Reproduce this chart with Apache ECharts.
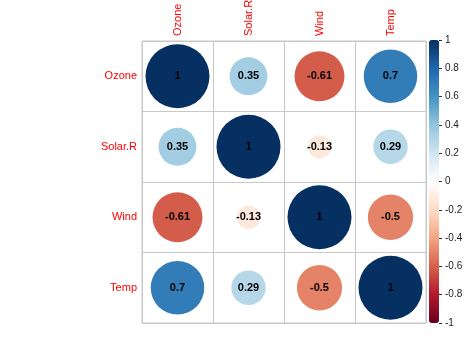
<!DOCTYPE html>
<html>
<head>
<meta charset="utf-8">
<script src="https://cdn.jsdelivr.net/npm/echarts@6/dist/echarts.min.js"></script>
<style>
  html, body { margin: 0; padding: 0; background: #fff; }
  #chart { width: 474px; height: 338px; }
</style>
</head>
<body>
<div id="chart"></div>
<script>
// Variables of the airquality data set
var variables = ['Ozone', 'Solar.R', 'Wind', 'Temp'];

// Pearson correlations, one row per variable
var rowOzone  = [1, 0.35, -0.61, 0.7];
var rowSolarR = [0.35, 1, -0.13, 0.29];
var rowWind   = [-0.61, -0.13, 1, -0.5];
var rowTemp   = [0.7, 0.29, -0.5, 1];

// Colour bar ticks
var legendTicks = [-1, -0.8, -0.6, -0.4, -0.2, 0, 0.2, 0.4, 0.6, 0.8, 1];

// Diverging red-blue palette from -1 to 1
var palette = ['#67001F', '#B2182B', '#D6604D', '#F4A582', '#FDDBC7', '#FFFFFF',
               '#D1E5F0', '#92C5DE', '#4393C3', '#2166AC', '#053061'];

var rows = [rowOzone, rowSolarR, rowWind, rowTemp];
var cells = [];
rows.forEach(function (row, i) {
  row.forEach(function (v, j) {
    cells.push([j, i, v]);
  });
});

var MAX_DIAMETER = 64;
var FONT = 'Liberation Sans, Arial, Helvetica, sans-serif';

var chart = echarts.init(document.getElementById('chart'));
chart.setOption({
  animation: false,
  backgroundColor: '#fff',
  grid: [
    { left: 142, top: 41, width: 284, height: 282, show: true,
      borderColor: '#c8c8c8', borderWidth: 1, containLabel: false, outerBoundsMode: 'none' },
    { left: 429, top: 40, width: 10, height: 283, show: false, outerBoundsMode: 'none' }
  ],
  xAxis: [
    { type: 'category', data: variables, position: 'top', gridIndex: 0,
      axisLine: { show: false }, axisTick: { show: false },
      splitLine: { show: true, interval: 0, lineStyle: { color: '#c8c8c8', width: 1 } },
      axisLabel: { rotate: -90, margin: 5, color: '#f00', fontSize: 11, fontFamily: FONT, interval: 0 } },
    { type: 'category', data: ['bar'], gridIndex: 1, show: false }
  ],
  yAxis: [
    { type: 'category', data: variables, inverse: true, gridIndex: 0,
      axisLine: { show: false }, axisTick: { show: false },
      splitLine: { show: true, interval: 0, lineStyle: { color: '#c8c8c8', width: 1 } },
      axisLabel: { margin: 5, color: '#f00', fontSize: 11, fontFamily: FONT, interval: 0 } },
    { type: 'value', gridIndex: 1, position: 'right',
      min: legendTicks[0], max: legendTicks[legendTicks.length - 1], interval: 0.2,
      axisLine: { show: false },
      axisTick: { show: true, length: 3, lineStyle: { color: '#333' } },
      splitLine: { show: false },
      axisLabel: { margin: 6, fontSize: 10, color: '#222', fontFamily: FONT,
        formatter: function (v) { return String(Math.round(v * 10) / 10); } } }
  ],
  visualMap: {
    type: 'continuous',
    min: -1, max: 1,
    dimension: 2,
    seriesIndex: 0,
    orient: 'vertical',
    left: 429, top: 40,
    itemWidth: 10, itemHeight: 283,
    padding: 0,
    calculable: false,
    hoverLink: false,
    text: null,
    showLabel: false,
    inRange: { color: palette }
  },
  series: [{
    type: 'scatter',
    xAxisIndex: 0, yAxisIndex: 0,
    data: cells,
    symbol: 'circle',
    symbolSize: function (d) { return Math.sqrt(Math.abs(d[2])) * MAX_DIAMETER; },
    itemStyle: { opacity: 1 },
    label: {
      show: true, position: 'inside',
      formatter: function (p) { return String(p.data[2]); },
      color: '#000', fontWeight: 'bold', fontSize: 11, fontFamily: FONT
    },
    emphasis: { disabled: true }
  }]
});
</script>
</body>
</html>
